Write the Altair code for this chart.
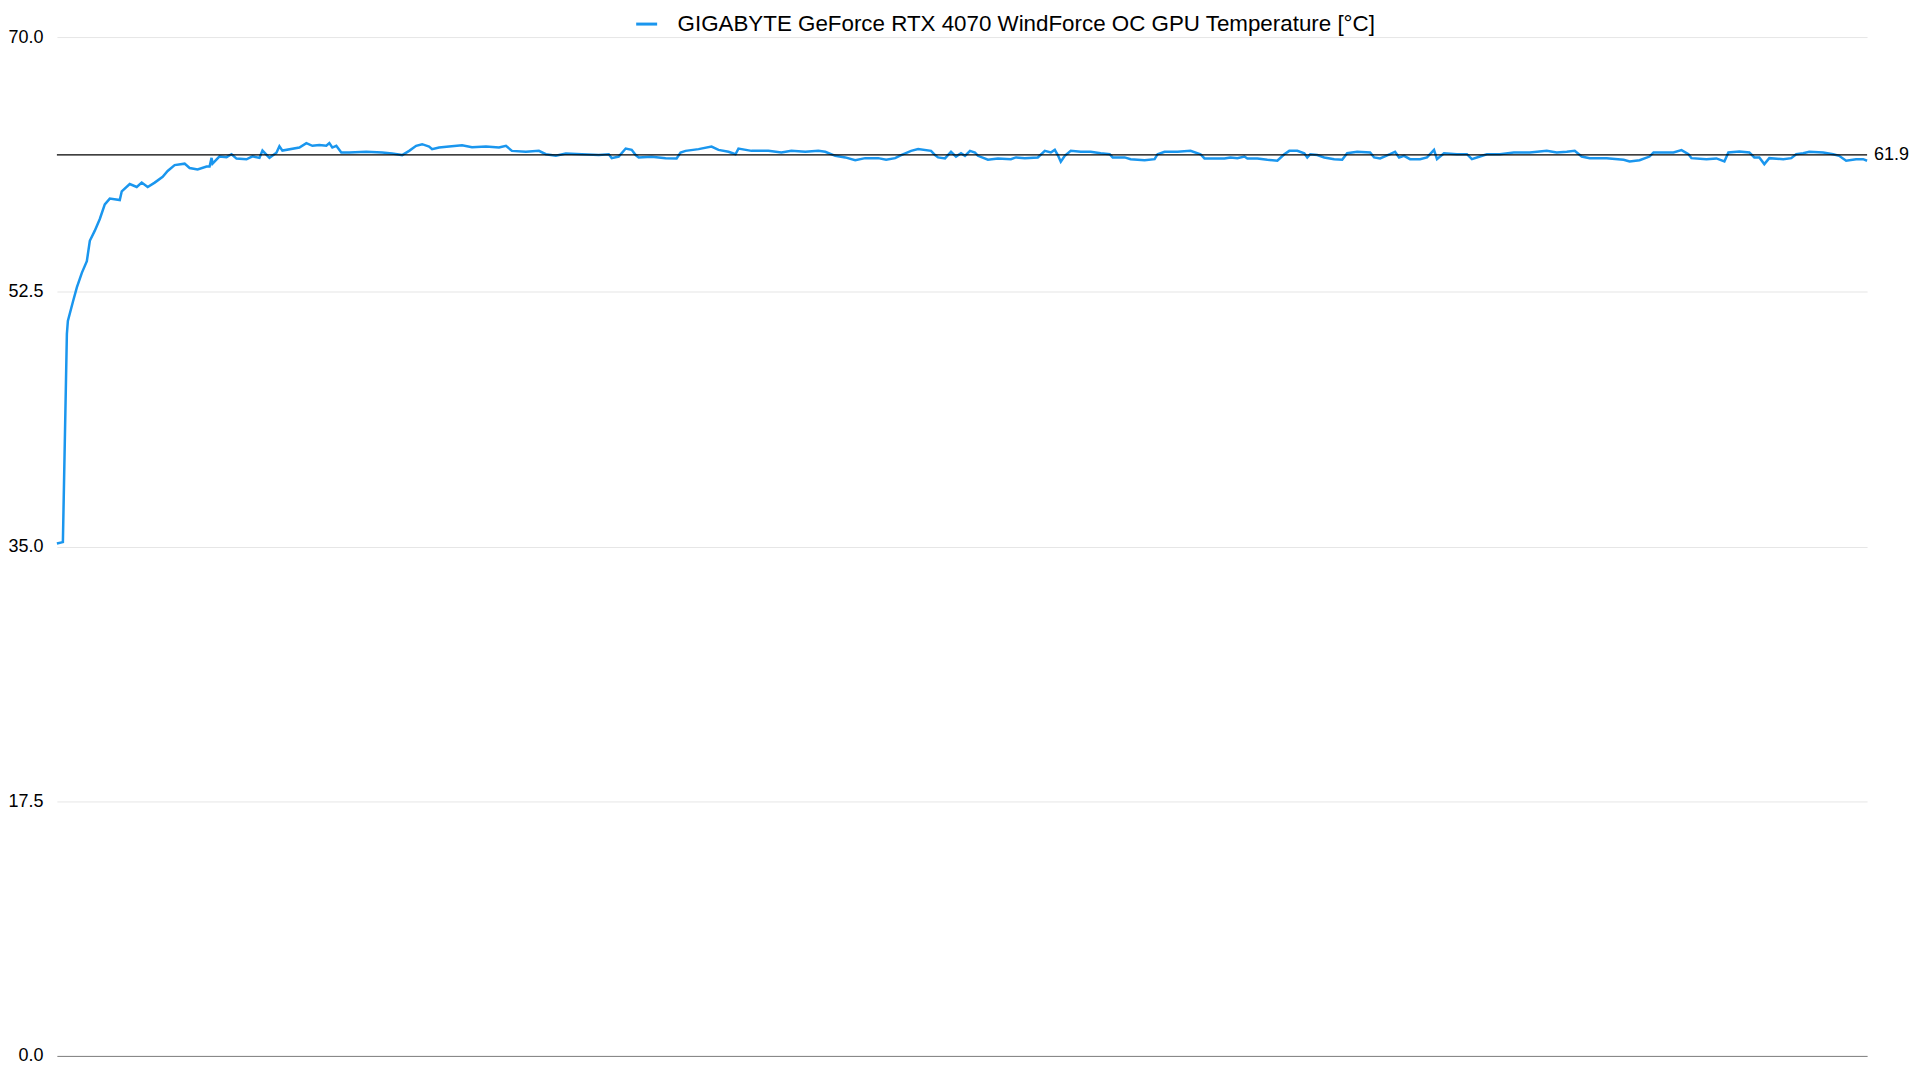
import altair as alt
import pandas as pd

SERIES = "GIGABYTE GeForce RTX 4070 WindForce OC GPU Temperature [°C]"
AVERAGE = 61.9

# elapsed time (s) and GPU temperature
time_s = [
    0, 6, 10, 11, 16, 20, 25, 30, 33, 38, 43, 48, 53, 63, 65, 73, 80, 85, 91, 98,
    106, 111, 118, 128, 133, 141, 150, 153, 155, 156, 163, 170, 175, 180, 190, 196, 203, 206, 213, 220,
    223, 226, 243, 250, 256, 263, 270, 273, 276, 280, 285, 293, 310, 326, 336, 346, 353, 360, 366, 373,
    376, 383, 393, 406, 416, 430, 443, 450, 456, 470, 483, 490, 500, 510, 526, 543, 553, 556, 563, 570,
    576, 580, 583, 596, 610, 621, 625, 630, 643, 656, 663, 673, 680, 683, 696, 713, 726, 736, 750, 763,
    770, 780, 790, 800, 810, 823, 831, 840, 846, 856, 863, 876, 880, 883, 890, 896, 901, 906, 910, 915,
    920, 923, 933, 943, 956, 961, 970, 983, 990, 996, 1000, 1003, 1006, 1010, 1016, 1026, 1036, 1046, 1055, 1058,
    1070, 1076, 1090, 1100, 1103, 1110, 1123, 1136, 1146, 1150, 1156, 1170, 1176, 1183, 1190, 1193, 1203, 1213, 1223, 1230,
    1235, 1243, 1250, 1253, 1256, 1263, 1270, 1280, 1288, 1293, 1303, 1316, 1320, 1326, 1336, 1341, 1345, 1350, 1356, 1366,
    1373, 1380, 1383, 1390, 1403, 1413, 1418, 1426, 1433, 1446, 1460, 1476, 1493, 1503, 1513, 1521, 1528, 1536, 1553, 1570,
    1576, 1586, 1596, 1600, 1610, 1620, 1628, 1635, 1638, 1653, 1663, 1671, 1675, 1686, 1696, 1701, 1706, 1711, 1716, 1730,
    1738, 1743, 1750, 1756, 1770, 1780, 1786, 1793, 1803, 1810, 1814,
]
temp_c = [
    35.2, 35.3, 49.6, 50.5, 51.8, 52.8, 53.8, 54.6, 56.0, 56.7, 57.5, 58.5, 58.9, 58.8, 59.4, 59.9, 59.7, 60.0, 59.7, 60.0,
    60.4, 60.8, 61.2, 61.3, 61.0, 60.9, 61.1, 61.1, 61.7, 61.3, 61.8, 61.75, 61.95, 61.65, 61.6, 61.8, 61.7, 62.2, 61.7, 62.05,
    62.5, 62.2, 62.41, 62.71, 62.53, 62.59, 62.53, 62.71, 62.41, 62.53, 62.07, 62.07, 62.12, 62.07, 62.0, 61.89, 62.18, 62.53, 62.64, 62.48,
    62.3, 62.41, 62.48, 62.57, 62.43, 62.48, 62.41, 62.53, 62.18, 62.12, 62.18, 61.95, 61.84, 62.0, 61.95, 61.89, 61.95, 61.68, 61.79, 62.34,
    62.25, 61.89, 61.73, 61.77, 61.68, 61.66, 62.07, 62.18, 62.3, 62.48, 62.25, 62.12, 61.95, 62.34, 62.18, 62.18, 62.07, 62.18, 62.12, 62.18,
    62.12, 61.84, 61.73, 61.54, 61.68, 61.68, 61.57, 61.68, 61.89, 62.18, 62.3, 62.18, 61.89, 61.73, 61.66, 62.12, 61.79, 62.02, 61.84, 62.18,
    62.07, 61.84, 61.57, 61.66, 61.61, 61.73, 61.68, 61.73, 62.18, 62.07, 62.25, 61.89, 61.43, 61.84, 62.18, 62.12, 62.12, 62.02, 61.95, 61.73,
    61.73, 61.61, 61.54, 61.61, 61.95, 62.12, 62.12, 62.18, 61.95, 61.66, 61.66, 61.66, 61.73, 61.68, 61.79, 61.66, 61.66, 61.57, 61.5, 61.95,
    62.18, 62.18, 62.02, 61.73, 61.95, 61.89, 61.73, 61.61, 61.57, 62.02, 62.12, 62.07, 61.73, 61.66, 61.95, 62.12, 61.73, 61.84, 61.61, 61.61,
    61.73, 62.25, 61.61, 62.02, 61.95, 61.95, 61.61, 61.79, 61.95, 61.95, 62.07, 62.07, 62.18, 62.07, 62.12, 62.18, 61.79, 61.68, 61.68, 61.57,
    61.45, 61.54, 61.79, 62.07, 62.07, 62.07, 62.23, 61.95, 61.68, 61.61, 61.66, 61.45, 62.07, 62.14, 62.07, 61.73, 61.73, 61.27, 61.68, 61.61,
    61.68, 61.95, 62.02, 62.12, 62.07, 61.95, 61.84, 61.5, 61.61, 61.61, 61.5,
]
y_ticks = [0, 17.5, 35, 52.5, 70]

df = pd.DataFrame({"t": time_s, "temp": temp_c, "series": SERIES})

FONT = "Liberation Sans"
BLUE = "#1a96ee"
W, H = 1814, 1021

base = alt.Chart(df)

line = base.mark_line(strokeWidth=2.5, interpolate="linear").encode(
    x=alt.X(
        "t:Q",
        scale=alt.Scale(domain=[0, max(time_s)], nice=False, zero=False),
        axis=alt.Axis(
            title=None, labels=False, ticks=False, grid=False,
            domain=True, domainColor="#808080", domainWidth=1,
        ),
    ),
    y=alt.Y(
        "temp:Q",
        scale=alt.Scale(domain=[0, 70], nice=False),
        axis=alt.Axis(
            title=None, values=y_ticks, format=".1f", ticks=False, domain=False,
            grid=True, gridColor="#e6e6e6", gridWidth=1,
            labelFont=FONT, labelFontSize=18, labelColor="#000", labelPadding=14,
        ),
    ),
    color=alt.Color(
        "series:N",
        scale=alt.Scale(range=[BLUE]),
        legend=alt.Legend(
            title=None, orient="none", legendX=579, legendY=-25,
            symbolType="stroke", symbolSize=441, symbolStrokeWidth=3,
            labelFont=FONT, labelFontSize=22.4, labelColor="#000", labelOffset=19,
            labelLimit=0,
        ),
    ),
)

avg_rule = alt.Chart(pd.DataFrame({"avg": [AVERAGE]})).mark_rule(
    color="#000", strokeWidth=1.2
).encode(y=alt.Y("avg:Q", axis=None))

avg_label = alt.Chart(pd.DataFrame({"avg": [AVERAGE], "t": [max(time_s)]})).mark_text(
    align="left", baseline="middle", dx=7, font=FONT, fontSize=18, color="#000"
).encode(
    x=alt.X("t:Q", axis=None),
    y=alt.Y("avg:Q", axis=None),
    text=alt.Text("avg:Q", format=".1f"),
)

chart = (
    alt.layer(line, avg_rule, avg_label, view=alt.ViewBackground(stroke="transparent"))
    .resolve_axis(x="independent", y="independent")
    .properties(
        width=W, height=H,
        autosize=alt.AutoSizeParams(type="none"),
        padding={"left": 49, "top": 28, "right": 45, "bottom": 10},
    )
    .configure_view(stroke="transparent", strokeWidth=0)
    .configure(background="white")
)

chart.save("out.html", embed_options={"renderer": "svg", "actions": False})
